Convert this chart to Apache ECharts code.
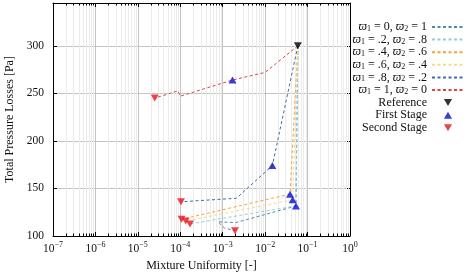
<!DOCTYPE html>
<html>
<head>
<meta charset="utf-8">
<script src="https://cdn.jsdelivr.net/npm/echarts@6/dist/echarts.min.js"></script>
<style>
  html, body { margin: 0; padding: 0; background: #fff; }
  #chart { width: 474px; height: 276px; }
</style>
</head>
<body>
<div id="chart"></div>
<script>
const FONT = '"Liberation Serif", "DejaVu Serif", serif'

// x is mixture uniformity, y is total pressure loss in Pa
const referencePoint = [[0.059, 300]]
const firstStagePoints = [[0.0017, 264], [0.0148, 174], [0.0386, 144], [0.0446, 138], [0.0533, 131.6]]
const secondStagePoints = [[2.5e-5, 245], [1.04e-4, 136], [1.07e-4, 117.6], [1.34e-4, 115.8], [1.69e-4, 112.6], [1.95e-3, 105.6]]

const traceW0 = [[0.059, 300], [0.0533, 131.6], [2e-3, 114], [7.7e-4, 115], [1.1e-3, 108.4], [1.95e-3, 105.6]]
const traceW2 = [[0.059, 300], [0.0533, 131.6], [1e-3, 118.6], [1.69e-4, 112.6]]
const traceW4 = [[0.059, 300], [0.0386, 144], [1.07e-4, 117.6]]
const traceW6 = [[0.059, 300], [0.0446, 138], [1.34e-4, 115.8]]
const traceW8 = [[0.059, 300], [0.0148, 174], [2.1e-3, 139.7], [1.04e-4, 136]]
const traceW10 = [[0.059, 300], [0.01, 272], [0.0017, 264], [1e-4, 247], [8.8e-5, 252.6], [2.5e-5, 245]]

const traceNames = ['w0', 'w2', 'w4', 'w6', 'w8', 'w10']
const traceLabels = [['0', '1'], ['.2', '.8'], ['.4', '.6'], ['.6', '.4'], ['.8', '.2'], ['1', '0']]
const traceColors = ['#4f88ad', '#8fd0d6', '#f2a43a', '#f5da8c', '#3c6fa3', '#d9434b']
const traces = [traceW0, traceW2, traceW4, traceW6, traceW8, traceW10]

const xMin = 1e-7
const xMax = 1
const yMin = 100
const yMax = 345

// minor log ticks 2..9 in every decade
const minorTicks = []
for (let e = -7; e < 0; e++) {
  for (let m = 2; m <= 9; m++) minorTicks.push(m * Math.pow(10, e))
}

const chart = echarts.init(document.getElementById('chart'), null, { renderer: 'canvas' })

function legendLabel(name) {
  const i = traceNames.indexOf(name)
  if (i < 0) return '{n|' + name + '}'
  const [a, b] = traceLabels[i]
  return `{i|ϖ}{s|1}{n| = ${a}, }{i|ϖ}{s|2}{n| = ${b}}`
}

function crisp(v) {
  return Math.round(v) + 0.5
}

const lineSeries = traces.map((data, i) => ({
  name: traceNames[i],
  type: 'line',
  data,
  symbol: 'none',
  smooth: false,
  z: 3,
  lineStyle: { color: traceColors[i], width: 1, type: [3, 2.5] },
  itemStyle: { color: traceColors[i] },
}))

const downTriangle = 'path://M0,0L10,0L5,8.6Z'
const upTriangle = 'path://M5,0L10,8.6L0,8.6Z'

const legendData = [
  ...traceNames.map((name) => ({ name, itemStyle: { opacity: 0 } })),
  { name: 'Reference', icon: downTriangle },
  { name: 'First Stage', icon: upTriangle },
  { name: 'Second Stage', icon: downTriangle },
]

const option = {
  backgroundColor: '#fff',
  animation: false,
  textStyle: { fontFamily: FONT },
  grid: { left: 53, right: 124, top: 3, bottom: 40, show: false, containLabel: false, outerBoundsMode: 'none' },
  legend: {
    orient: 'vertical',
    align: 'right',
    right: 4,
    top: 16,
    itemWidth: 32,
    itemHeight: 7,
    itemGap: 0.6,
    symbolKeepAspect: true,
    data: legendData,
    formatter: legendLabel,
    textStyle: {
      fontFamily: FONT,
      fontSize: 12,
      color: '#111',
      rich: {
        i: { fontFamily: FONT, fontStyle: 'italic', fontSize: 12, lineHeight: 12, verticalAlign: 'bottom' },
        s: { fontFamily: FONT, fontSize: 8, lineHeight: 5, verticalAlign: 'bottom' },
        n: { fontFamily: FONT, fontSize: 12, lineHeight: 12, verticalAlign: 'bottom' },
      },
    },
  },
  xAxis: [
    {
      type: 'log',
      min: xMin,
      max: xMax,
      splitNumber: 7,
      position: 'bottom',
      name: 'Mixture Uniformity [-]',
      nameLocation: 'middle',
      nameGap: 24,
      nameTextStyle: { fontFamily: FONT, fontSize: 12, color: '#111' },
      axisLine: { show: true, lineStyle: { color: '#000', width: 1 } },
      axisTick: { show: true, inside: true, length: 4, lineStyle: { color: '#000' } },
      splitLine: { show: true, lineStyle: { color: '#c4c4c4', width: 1 } },
      axisLabel: {
        margin: 5,
        color: '#111',
        formatter: (v) => {
          const e = Math.round(Math.log10(v))
          return '{b|10}{s|' + (e < 0 ? '−' + (-e) : e) + '}'
        },
        rich: {
          b: { fontFamily: FONT, fontSize: 11.5, verticalAlign: 'bottom' },
          s: { fontFamily: FONT, fontSize: 8, verticalAlign: 'bottom', padding: [0, 0, 6, 0] },
        },
      },
    },
    {
      type: 'log',
      min: xMin,
      max: xMax,
      splitNumber: 7,
      position: 'top',
      axisLine: { show: true, lineStyle: { color: '#000', width: 1 } },
      axisTick: { show: true, inside: true, length: 4, lineStyle: { color: '#000' } },
      splitLine: { show: false },
      axisLabel: { show: false },
    },
  ],
  yAxis: [
    {
      type: 'value',
      min: yMin,
      max: yMax,
      interval: 50,
      position: 'left',
      name: 'Total Pressure Losses [Pa]',
      nameLocation: 'middle',
      nameGap: 37,
      nameTextStyle: { fontFamily: FONT, fontSize: 12, color: '#111' },
      axisLine: { show: true, lineStyle: { color: '#000', width: 1 } },
      axisTick: { show: true, inside: true, length: 4, lineStyle: { color: '#000' } },
      splitLine: { show: true, lineStyle: { color: '#c4c4c4', width: 1 } },
      axisLabel: { fontFamily: FONT, fontSize: 11.5, color: '#111', margin: 9, showMaxLabel: false },
    },
    {
      type: 'value',
      min: yMin,
      max: yMax,
      interval: 50,
      position: 'right',
      axisLine: { show: true, lineStyle: { color: '#000', width: 1 } },
      axisTick: { show: true, inside: true, length: 4, lineStyle: { color: '#000' } },
      splitLine: { show: false },
      axisLabel: { show: false },
    },
  ],
  series: [
    {
      name: 'minorGrid',
      type: 'custom',
      xAxisIndex: 0,
      yAxisIndex: 0,
      silent: true,
      z: 1,
      data: minorTicks.map((v) => [v, yMin]),
      renderItem: (params, api) => {
        const x = api.value(0)
        const bottom = api.coord([x, yMin])
        const top = api.coord([x, yMax])
        const px = crisp(bottom[0])
        return {
          type: 'group',
          children: [
            { type: 'line', shape: { x1: px, y1: bottom[1], x2: px, y2: top[1] }, style: { stroke: '#ebebeb', lineWidth: 1 } },
            { type: 'line', shape: { x1: px, y1: bottom[1], x2: px, y2: bottom[1] - 2.5 }, style: { stroke: '#000', lineWidth: 1 } },
            { type: 'line', shape: { x1: px, y1: top[1], x2: px, y2: top[1] + 2.5 }, style: { stroke: '#000', lineWidth: 1 } },
          ],
        }
      },
    },
    ...lineSeries,
    {
      name: 'Reference',
      type: 'scatter',
      data: referencePoint,
      symbol: 'triangle',
      symbolRotate: 180,
      symbolSize: [8, 7],
      z: 5,
      itemStyle: { color: '#000' },
    },
    {
      name: 'First Stage',
      type: 'scatter',
      data: firstStagePoints,
      symbol: 'triangle',
      symbolSize: [8, 7],
      z: 5,
      itemStyle: { color: '#0a0ad2' },
    },
    {
      name: 'Second Stage',
      type: 'scatter',
      data: secondStagePoints,
      symbol: 'triangle',
      symbolRotate: 180,
      symbolSize: [8, 7],
      z: 5,
      itemStyle: { color: '#e8141c' },
    },
  ],
}

chart.setOption(option)
</script>
</body>
</html>
